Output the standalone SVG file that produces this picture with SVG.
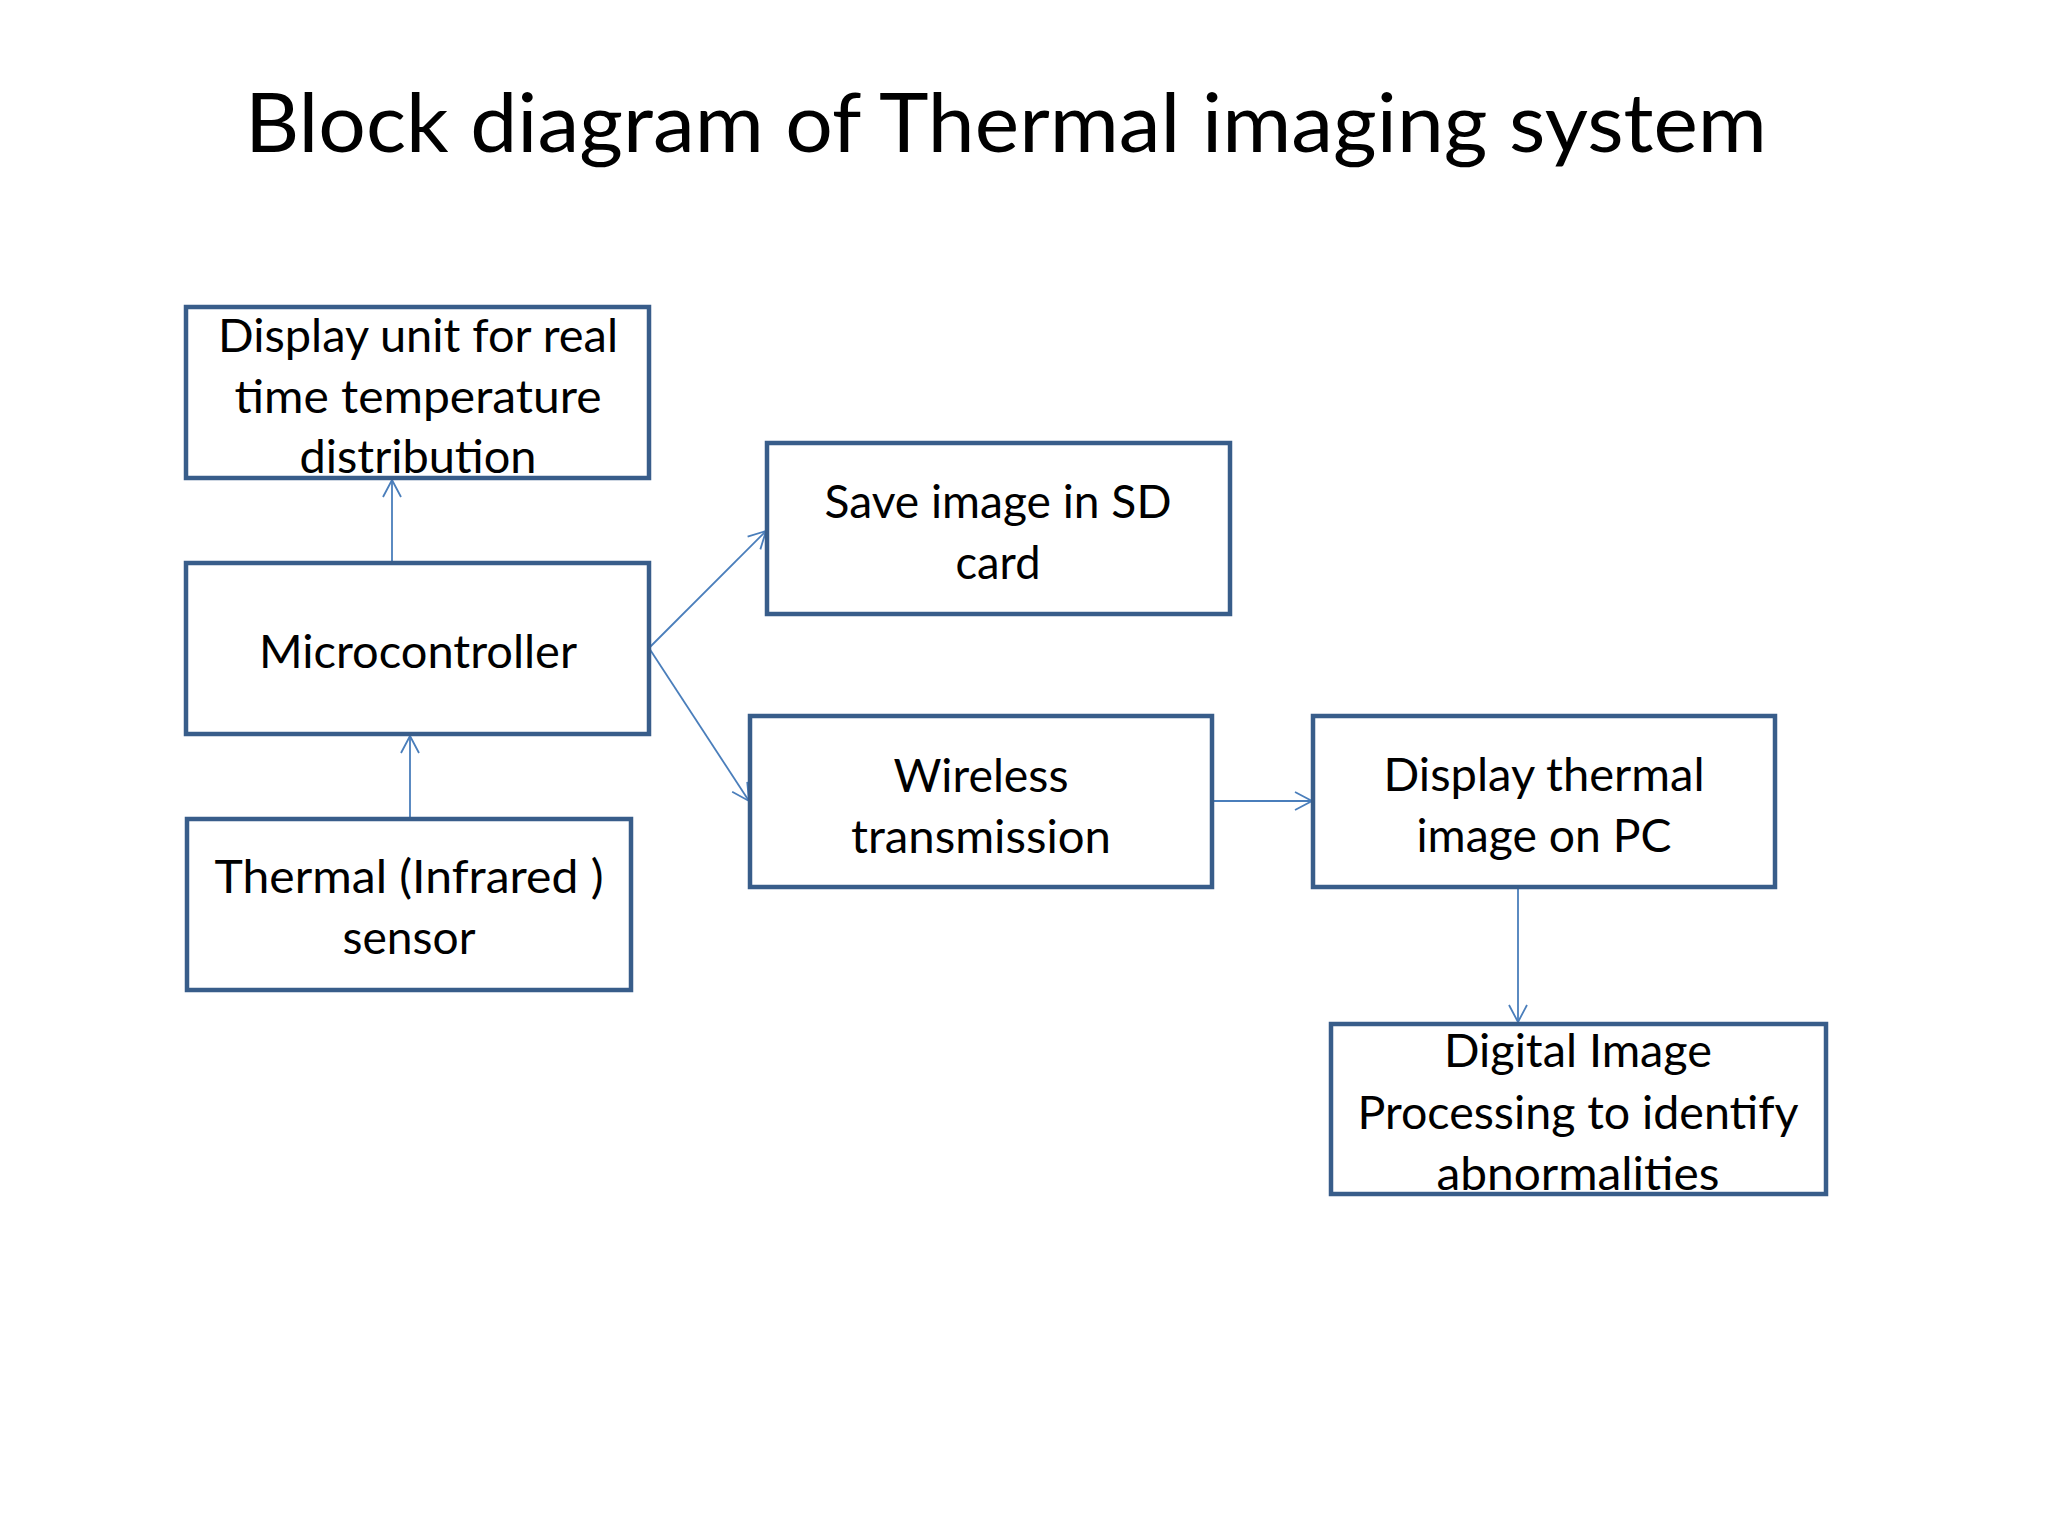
<svg xmlns="http://www.w3.org/2000/svg" width="2048" height="1536" viewBox="0 0 2048 1536">
<style>
.box{fill:#ffffff;stroke:#385D8A;stroke-width:4.5}
.lbl{font-family:Lato,"Liberation Sans",sans-serif;font-size:47px;fill:#000000;text-anchor:middle}
.title{font-family:Lato,"Liberation Sans",sans-serif;font-size:81px;fill:#000000;text-anchor:middle}
.con{fill:none;stroke:#4A7EBB;stroke-width:1.8;marker-end:url(#arr)}
</style>
<defs>
<marker id="arr" markerUnits="userSpaceOnUse" viewBox="-20 -12 22 24" refX="0" refY="0" markerWidth="22" markerHeight="24" orient="auto">
<path d="M-17,-9 L0,0 L-17,9" fill="none" stroke="#4A7EBB" stroke-width="1.8"/>
</marker>
</defs>
<rect width="2048" height="1536" fill="#ffffff"/>
<text class="title" x="1006" y="152" textLength="1522" lengthAdjust="spacingAndGlyphs">Block diagram of Thermal imaging system</text>
<g id="connectors">
<path class="con" d="M392,563 L392,480"/>
<path class="con" d="M410,819 L410,736"/>
<path class="con" d="M649,648 L766,531"/>
<path class="con" d="M649,648 L749,801"/>
<path class="con" d="M1212,801 L1312,801"/>
<path class="con" d="M1518,887 L1518,1022"/>
</g>
<g id="display-unit">
<rect class="box" x="186" y="307" width="463" height="171"/>
<text class="lbl" x="418" y="352" textLength="400" lengthAdjust="spacingAndGlyphs">Display unit for real</text>
<text class="lbl" x="418" y="413" textLength="367" lengthAdjust="spacingAndGlyphs">time temperature</text>
<text class="lbl" x="418" y="473" textLength="237" lengthAdjust="spacingAndGlyphs">distribution</text>
</g>
<g id="microcontroller">
<rect class="box" x="186" y="563" width="463" height="171"/>
<text class="lbl" x="418" y="668" textLength="318" lengthAdjust="spacingAndGlyphs">Microcontroller</text>
</g>
<g id="sensor">
<rect class="box" x="187" y="819" width="444" height="171"/>
<text class="lbl" x="409" y="893" textLength="389" lengthAdjust="spacingAndGlyphs">Thermal (Infrared )</text>
<text class="lbl" x="409" y="954" textLength="133" lengthAdjust="spacingAndGlyphs">sensor</text>
</g>
<g id="save-image">
<rect class="box" x="767" y="443" width="463" height="171"/>
<text class="lbl" x="998" y="518" textLength="347" lengthAdjust="spacingAndGlyphs">Save image in SD</text>
<text class="lbl" x="998" y="579" textLength="85" lengthAdjust="spacingAndGlyphs">card</text>
</g>
<g id="wireless">
<rect class="box" x="750" y="716" width="462" height="171"/>
<text class="lbl" x="981" y="792" textLength="175" lengthAdjust="spacingAndGlyphs">Wireless</text>
<text class="lbl" x="981" y="853" textLength="260" lengthAdjust="spacingAndGlyphs">transmission</text>
</g>
<g id="display-pc">
<rect class="box" x="1313" y="716" width="462" height="171"/>
<text class="lbl" x="1544" y="791" textLength="321" lengthAdjust="spacingAndGlyphs">Display thermal</text>
<text class="lbl" x="1544" y="852" textLength="255" lengthAdjust="spacingAndGlyphs">image on PC</text>
</g>
<g id="digital-image">
<rect class="box" x="1331" y="1024" width="495" height="170"/>
<text class="lbl" x="1578" y="1067" textLength="268" lengthAdjust="spacingAndGlyphs">Digital Image</text>
<text class="lbl" x="1578" y="1129" textLength="441" lengthAdjust="spacingAndGlyphs">Processing to identify</text>
<text class="lbl" x="1578" y="1190" textLength="283" lengthAdjust="spacingAndGlyphs">abnormalities</text>
</g>
</svg>
